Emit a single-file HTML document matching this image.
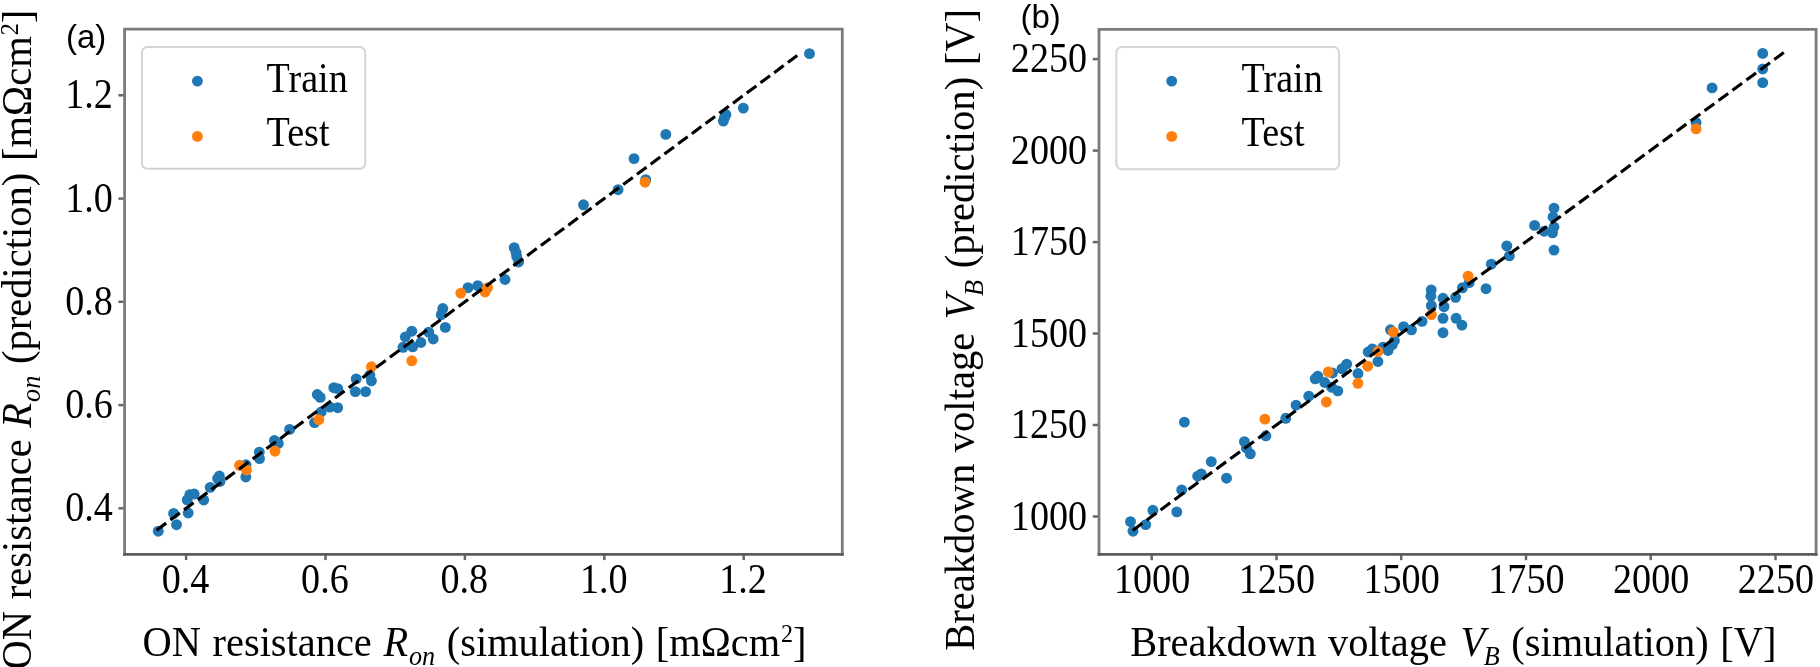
<!DOCTYPE html>
<html lang="en"><head><meta charset="utf-8"><title>Prediction vs simulation</title>
<style>html,body{margin:0;padding:0;background:#fff;}body{width:1820px;height:667px;overflow:hidden;}svg{display:block;filter:blur(0.45px);}text{fill:#000;}</style>
</head><body>
<svg width="1820" height="667" viewBox="0 0 1820 667">
<rect width="1820" height="667" fill="#fff"/>
<g id="panel-a">
<line x1="186.1" y1="554.3" x2="186.1" y2="560.1" stroke="#666" stroke-width="2.5"/><line x1="325.5" y1="554.3" x2="325.5" y2="560.1" stroke="#666" stroke-width="2.5"/><line x1="464.9" y1="554.3" x2="464.9" y2="560.1" stroke="#666" stroke-width="2.5"/><line x1="604.3" y1="554.3" x2="604.3" y2="560.1" stroke="#666" stroke-width="2.5"/><line x1="743.7" y1="554.3" x2="743.7" y2="560.1" stroke="#666" stroke-width="2.5"/><line x1="118.4" y1="508.3" x2="124.6" y2="508.3" stroke="#666" stroke-width="2.5"/><line x1="118.4" y1="405.1" x2="124.6" y2="405.1" stroke="#666" stroke-width="2.5"/><line x1="118.4" y1="301.8" x2="124.6" y2="301.8" stroke="#666" stroke-width="2.5"/><line x1="118.4" y1="198.6" x2="124.6" y2="198.6" stroke="#666" stroke-width="2.5"/><line x1="118.4" y1="95.3" x2="124.6" y2="95.3" stroke="#666" stroke-width="2.5"/><path d="M124.6,555.6999999999999 V29.2 H842.3 V555.6999999999999" fill="none" stroke="#7c7c7c" stroke-width="2.8"/><line x1="123.19999999999999" y1="554.3" x2="843.6999999999999" y2="554.3" stroke="#5c5c5c" stroke-width="2.8"/><text transform="translate(185.50,592.60) scale(0.907,1)" font-family="'Liberation Serif', 'Times New Roman', Times, serif" font-size="42.0" text-anchor="middle" >0.4</text><text transform="translate(324.90,592.60) scale(0.907,1)" font-family="'Liberation Serif', 'Times New Roman', Times, serif" font-size="42.0" text-anchor="middle" >0.6</text><text transform="translate(464.30,592.60) scale(0.907,1)" font-family="'Liberation Serif', 'Times New Roman', Times, serif" font-size="42.0" text-anchor="middle" >0.8</text><text transform="translate(603.70,592.60) scale(0.907,1)" font-family="'Liberation Serif', 'Times New Roman', Times, serif" font-size="42.0" text-anchor="middle" >1.0</text><text transform="translate(743.10,592.60) scale(0.907,1)" font-family="'Liberation Serif', 'Times New Roman', Times, serif" font-size="42.0" text-anchor="middle" >1.2</text><text transform="translate(112.80,521.30) scale(0.907,1)" font-family="'Liberation Serif', 'Times New Roman', Times, serif" font-size="42.0" text-anchor="end" >0.4</text><text transform="translate(112.80,418.05) scale(0.907,1)" font-family="'Liberation Serif', 'Times New Roman', Times, serif" font-size="42.0" text-anchor="end" >0.6</text><text transform="translate(112.80,314.80) scale(0.907,1)" font-family="'Liberation Serif', 'Times New Roman', Times, serif" font-size="42.0" text-anchor="end" >0.8</text><text transform="translate(112.80,211.55) scale(0.907,1)" font-family="'Liberation Serif', 'Times New Roman', Times, serif" font-size="42.0" text-anchor="end" >1.0</text><text transform="translate(112.80,108.30) scale(0.907,1)" font-family="'Liberation Serif', 'Times New Roman', Times, serif" font-size="42.0" text-anchor="end" >1.2</text>
<g fill="#1f77b4"><circle cx="158.3" cy="531.2" r="5.45"/><circle cx="173.6" cy="513.4" r="5.45"/><circle cx="176.5" cy="524.7" r="5.45"/><circle cx="188.2" cy="513.0" r="5.45"/><circle cx="187.2" cy="499.9" r="5.45"/><circle cx="189.8" cy="494.7" r="5.45"/><circle cx="194.2" cy="494.0" r="5.45"/><circle cx="203.7" cy="500.0" r="5.45"/><circle cx="210.2" cy="487.4" r="5.45"/><circle cx="217.6" cy="478.5" r="5.45"/><circle cx="220.0" cy="481.5" r="5.45"/><circle cx="219.4" cy="476.0" r="5.45"/><circle cx="245.8" cy="477.0" r="5.45"/><circle cx="246.0" cy="464.8" r="5.45"/><circle cx="259.3" cy="452.1" r="5.45"/><circle cx="259.5" cy="458.6" r="5.45"/><circle cx="274.4" cy="440.5" r="5.45"/><circle cx="278.3" cy="443.4" r="5.45"/><circle cx="289.6" cy="429.4" r="5.45"/><circle cx="314.6" cy="422.6" r="5.45"/><circle cx="317.3" cy="394.5" r="5.45"/><circle cx="320.2" cy="397.4" r="5.45"/><circle cx="333.8" cy="387.7" r="5.45"/><circle cx="337.7" cy="388.6" r="5.45"/><circle cx="329.9" cy="407.1" r="5.45"/><circle cx="337.7" cy="407.7" r="5.45"/><circle cx="321.2" cy="412.0" r="5.45"/><circle cx="356.2" cy="378.9" r="5.45"/><circle cx="355.3" cy="391.6" r="5.45"/><circle cx="365.6" cy="391.6" r="5.45"/><circle cx="371.4" cy="380.8" r="5.45"/><circle cx="369.9" cy="375.0" r="5.45"/><circle cx="403.0" cy="347.3" r="5.45"/><circle cx="405.3" cy="337.0" r="5.45"/><circle cx="411.8" cy="331.2" r="5.45"/><circle cx="412.7" cy="346.8" r="5.45"/><circle cx="420.9" cy="342.5" r="5.45"/><circle cx="428.7" cy="332.1" r="5.45"/><circle cx="433.2" cy="339.0" r="5.45"/><circle cx="441.3" cy="314.7" r="5.45"/><circle cx="442.8" cy="308.5" r="5.45"/><circle cx="445.3" cy="327.4" r="5.45"/><circle cx="468.0" cy="287.7" r="5.45"/><circle cx="477.7" cy="285.7" r="5.45"/><circle cx="505.0" cy="279.5" r="5.45"/><circle cx="514.2" cy="247.7" r="5.45"/><circle cx="516.1" cy="252.6" r="5.45"/><circle cx="516.7" cy="256.5" r="5.45"/><circle cx="518.6" cy="262.0" r="5.45"/><circle cx="583.5" cy="204.8" r="5.45"/><circle cx="618.1" cy="189.7" r="5.45"/><circle cx="634.0" cy="158.6" r="5.45"/><circle cx="645.7" cy="179.6" r="5.45"/><circle cx="665.8" cy="134.4" r="5.45"/><circle cx="723.3" cy="121.1" r="5.45"/><circle cx="725.9" cy="114.5" r="5.45"/><circle cx="724.5" cy="117.5" r="5.45"/><circle cx="743.3" cy="108.1" r="5.45"/><circle cx="809.5" cy="53.6" r="5.45"/></g>
<g fill="#ff7f0e"><circle cx="239.5" cy="465.3" r="5.45"/><circle cx="246.5" cy="470.0" r="5.45"/><circle cx="275.0" cy="451.2" r="5.45"/><circle cx="318.8" cy="419.7" r="5.45"/><circle cx="371.4" cy="366.8" r="5.45"/><circle cx="411.8" cy="360.8" r="5.45"/><circle cx="460.8" cy="293.1" r="5.45"/><circle cx="485.1" cy="292.0" r="5.45"/><circle cx="487.5" cy="287.7" r="5.45"/><circle cx="645.1" cy="182.2" r="5.45"/></g>
<line x1="156.6" y1="530.2" x2="797.2" y2="55.6" stroke="#000" stroke-width="3.15" stroke-dasharray="11.9 5.18"/>
<rect x="142.0" y="47.0" width="223.2" height="121.8" rx="5.5" ry="5.5" fill="#fff" fill-opacity="0.8" stroke="#d4d4d4" stroke-width="2"/><circle cx="197.4" cy="81.1" r="5.45" fill="#1f77b4"/><circle cx="197.4" cy="136.4" r="5.45" fill="#ff7f0e"/><text transform="translate(266.60,92.00) scale(0.907,1)" font-family="'Liberation Serif', 'Times New Roman', Times, serif" font-size="42.0" text-anchor="start" >Train</text><text transform="translate(266.60,146.30) scale(0.907,1)" font-family="'Liberation Serif', 'Times New Roman', Times, serif" font-size="42.0" text-anchor="start" >Test</text>
<text transform="translate(66.00,48.00) scale(1.0,1)" font-family="'Liberation Sans', Arial, Helvetica, sans-serif" font-size="33" text-anchor="start" >(a)</text>
<text transform="translate(142.6,656.0) scale(0.962,1)" font-family="'Liberation Serif', 'Times New Roman', Times, serif" font-size="42.0" word-spacing="1.6">ON resistance <tspan font-style="italic">R</tspan><tspan font-style="italic" font-size="27.2" dy="9" dx="1">on</tspan><tspan dy="-9"> (simulation) [mΩcm</tspan><tspan font-size="25" dy="-13.6" dx="1">2</tspan><tspan dy="13.6">]</tspan></text>
<text transform="translate(31.4,669.4) rotate(-90) scale(0.9655,1)" font-family="'Liberation Serif', 'Times New Roman', Times, serif" font-size="42.0" word-spacing="1.6">ON resistance <tspan font-style="italic">R</tspan><tspan font-style="italic" font-size="27.2" dy="9" dx="1">on</tspan><tspan dy="-9"> (prediction) [mΩcm</tspan><tspan font-size="25" dy="-13.6" dx="1">2</tspan><tspan dy="13.6">]</tspan></text>
</g>
<g id="panel-b">
<line x1="1151.7" y1="554.4" x2="1151.7" y2="560.2" stroke="#666" stroke-width="2.5"/><line x1="1276.5" y1="554.4" x2="1276.5" y2="560.2" stroke="#666" stroke-width="2.5"/><line x1="1401.2" y1="554.4" x2="1401.2" y2="560.2" stroke="#666" stroke-width="2.5"/><line x1="1526.0" y1="554.4" x2="1526.0" y2="560.2" stroke="#666" stroke-width="2.5"/><line x1="1650.7" y1="554.4" x2="1650.7" y2="560.2" stroke="#666" stroke-width="2.5"/><line x1="1775.5" y1="554.4" x2="1775.5" y2="560.2" stroke="#666" stroke-width="2.5"/><line x1="1092.8" y1="516.5" x2="1099.0" y2="516.5" stroke="#666" stroke-width="2.5"/><line x1="1092.8" y1="425.0" x2="1099.0" y2="425.0" stroke="#666" stroke-width="2.5"/><line x1="1092.8" y1="333.5" x2="1099.0" y2="333.5" stroke="#666" stroke-width="2.5"/><line x1="1092.8" y1="242.1" x2="1099.0" y2="242.1" stroke="#666" stroke-width="2.5"/><line x1="1092.8" y1="150.6" x2="1099.0" y2="150.6" stroke="#666" stroke-width="2.5"/><line x1="1092.8" y1="59.1" x2="1099.0" y2="59.1" stroke="#666" stroke-width="2.5"/><path d="M1099.0,555.8 V29.3 H1816.1 V555.8" fill="none" stroke="#7c7c7c" stroke-width="2.8"/><line x1="1097.6" y1="554.4" x2="1817.5" y2="554.4" stroke="#5c5c5c" stroke-width="2.8"/><text transform="translate(1152.10,592.60) scale(0.907,1)" font-family="'Liberation Serif', 'Times New Roman', Times, serif" font-size="42.0" text-anchor="middle" >1000</text><text transform="translate(1276.86,592.60) scale(0.907,1)" font-family="'Liberation Serif', 'Times New Roman', Times, serif" font-size="42.0" text-anchor="middle" >1250</text><text transform="translate(1401.62,592.60) scale(0.907,1)" font-family="'Liberation Serif', 'Times New Roman', Times, serif" font-size="42.0" text-anchor="middle" >1500</text><text transform="translate(1526.38,592.60) scale(0.907,1)" font-family="'Liberation Serif', 'Times New Roman', Times, serif" font-size="42.0" text-anchor="middle" >1750</text><text transform="translate(1651.14,592.60) scale(0.907,1)" font-family="'Liberation Serif', 'Times New Roman', Times, serif" font-size="42.0" text-anchor="middle" >2000</text><text transform="translate(1775.90,592.60) scale(0.907,1)" font-family="'Liberation Serif', 'Times New Roman', Times, serif" font-size="42.0" text-anchor="middle" >2250</text><text transform="translate(1087.00,529.50) scale(0.907,1)" font-family="'Liberation Serif', 'Times New Roman', Times, serif" font-size="42.0" text-anchor="end" >1000</text><text transform="translate(1087.00,438.02) scale(0.907,1)" font-family="'Liberation Serif', 'Times New Roman', Times, serif" font-size="42.0" text-anchor="end" >1250</text><text transform="translate(1087.00,346.54) scale(0.907,1)" font-family="'Liberation Serif', 'Times New Roman', Times, serif" font-size="42.0" text-anchor="end" >1500</text><text transform="translate(1087.00,255.06) scale(0.907,1)" font-family="'Liberation Serif', 'Times New Roman', Times, serif" font-size="42.0" text-anchor="end" >1750</text><text transform="translate(1087.00,163.58) scale(0.907,1)" font-family="'Liberation Serif', 'Times New Roman', Times, serif" font-size="42.0" text-anchor="end" >2000</text><text transform="translate(1087.00,72.10) scale(0.907,1)" font-family="'Liberation Serif', 'Times New Roman', Times, serif" font-size="42.0" text-anchor="end" >2250</text>
<g fill="#1f77b4"><circle cx="1130.5" cy="521.6" r="5.45"/><circle cx="1133.0" cy="531.2" r="5.45"/><circle cx="1145.7" cy="524.6" r="5.45"/><circle cx="1152.9" cy="510.3" r="5.45"/><circle cx="1176.8" cy="511.9" r="5.45"/><circle cx="1181.7" cy="489.9" r="5.45"/><circle cx="1184.4" cy="422.1" r="5.45"/><circle cx="1197.7" cy="476.2" r="5.45"/><circle cx="1201.2" cy="473.9" r="5.45"/><circle cx="1211.3" cy="461.6" r="5.45"/><circle cx="1226.5" cy="478.2" r="5.45"/><circle cx="1244.4" cy="441.6" r="5.45"/><circle cx="1246.4" cy="448.0" r="5.45"/><circle cx="1250.3" cy="453.8" r="5.45"/><circle cx="1265.9" cy="435.8" r="5.45"/><circle cx="1285.8" cy="418.3" r="5.45"/><circle cx="1296.0" cy="405.1" r="5.45"/><circle cx="1308.8" cy="396.2" r="5.45"/><circle cx="1315.2" cy="378.8" r="5.45"/><circle cx="1317.8" cy="376.2" r="5.45"/><circle cx="1324.7" cy="382.5" r="5.45"/><circle cx="1331.5" cy="387.2" r="5.45"/><circle cx="1337.8" cy="390.9" r="5.45"/><circle cx="1332.5" cy="373.0" r="5.45"/><circle cx="1342.0" cy="368.8" r="5.45"/><circle cx="1346.7" cy="364.1" r="5.45"/><circle cx="1358.0" cy="373.5" r="5.45"/><circle cx="1368.2" cy="352.0" r="5.45"/><circle cx="1372.4" cy="348.9" r="5.45"/><circle cx="1377.9" cy="361.5" r="5.45"/><circle cx="1382.9" cy="347.3" r="5.45"/><circle cx="1388.1" cy="350.5" r="5.45"/><circle cx="1392.3" cy="344.7" r="5.45"/><circle cx="1394.4" cy="340.5" r="5.45"/><circle cx="1390.5" cy="329.8" r="5.45"/><circle cx="1403.6" cy="326.7" r="5.45"/><circle cx="1411.5" cy="329.8" r="5.45"/><circle cx="1422.0" cy="321.4" r="5.45"/><circle cx="1431.2" cy="289.9" r="5.45"/><circle cx="1430.9" cy="296.2" r="5.45"/><circle cx="1431.4" cy="305.7" r="5.45"/><circle cx="1443.0" cy="298.3" r="5.45"/><circle cx="1444.0" cy="306.7" r="5.45"/><circle cx="1443.0" cy="318.3" r="5.45"/><circle cx="1443.0" cy="332.7" r="5.45"/><circle cx="1455.6" cy="297.3" r="5.45"/><circle cx="1456.1" cy="318.3" r="5.45"/><circle cx="1461.9" cy="325.1" r="5.45"/><circle cx="1462.4" cy="287.8" r="5.45"/><circle cx="1469.2" cy="282.6" r="5.45"/><circle cx="1486.0" cy="288.7" r="5.45"/><circle cx="1491.3" cy="264.2" r="5.45"/><circle cx="1506.8" cy="245.9" r="5.45"/><circle cx="1509.4" cy="255.9" r="5.45"/><circle cx="1534.6" cy="225.4" r="5.45"/><circle cx="1544.1" cy="231.2" r="5.45"/><circle cx="1552.5" cy="232.8" r="5.45"/><circle cx="1554.0" cy="227.0" r="5.45"/><circle cx="1553.0" cy="217.0" r="5.45"/><circle cx="1554.0" cy="208.1" r="5.45"/><circle cx="1554.0" cy="250.1" r="5.45"/><circle cx="1696.1" cy="122.5" r="5.45"/><circle cx="1712.1" cy="87.9" r="5.45"/><circle cx="1762.7" cy="53.4" r="5.45"/><circle cx="1762.7" cy="69.0" r="5.45"/><circle cx="1762.7" cy="82.6" r="5.45"/></g>
<g fill="#ff7f0e"><circle cx="1264.9" cy="419.1" r="5.45"/><circle cx="1326.4" cy="402.0" r="5.45"/><circle cx="1328.3" cy="372.0" r="5.45"/><circle cx="1357.9" cy="383.3" r="5.45"/><circle cx="1367.7" cy="366.2" r="5.45"/><circle cx="1377.9" cy="351.5" r="5.45"/><circle cx="1393.3" cy="332.0" r="5.45"/><circle cx="1431.4" cy="314.6" r="5.45"/><circle cx="1468.1" cy="276.2" r="5.45"/><circle cx="1696.1" cy="128.8" r="5.45"/></g>
<line x1="1132.7" y1="530.4" x2="1783.8" y2="52.6" stroke="#000" stroke-width="3.15" stroke-dasharray="12.0 5.3"/>
<rect x="1116.3" y="47.0" width="222.8" height="122.2" rx="5.5" ry="5.5" fill="#fff" fill-opacity="0.8" stroke="#d4d4d4" stroke-width="2"/><circle cx="1171.7" cy="81.1" r="5.45" fill="#1f77b4"/><circle cx="1171.7" cy="136.4" r="5.45" fill="#ff7f0e"/><text transform="translate(1241.60,92.00) scale(0.907,1)" font-family="'Liberation Serif', 'Times New Roman', Times, serif" font-size="42.0" text-anchor="start" >Train</text><text transform="translate(1241.60,146.30) scale(0.907,1)" font-family="'Liberation Serif', 'Times New Roman', Times, serif" font-size="42.0" text-anchor="start" >Test</text>
<text transform="translate(1020.40,28.40) scale(1.0,1)" font-family="'Liberation Sans', Arial, Helvetica, sans-serif" font-size="33" text-anchor="start" >(b)</text>
<text transform="translate(1130.2,655.6) scale(0.962,1)" font-family="'Liberation Serif', 'Times New Roman', Times, serif" font-size="42.0" word-spacing="1.6">Breakdown voltage <tspan font-style="italic" dx="2">V</tspan><tspan font-style="italic" font-size="27.2" dy="9" dx="-1.5">B</tspan><tspan dy="-9"> (simulation) [V]</tspan></text>
<text transform="translate(973.9,650.7) rotate(-90) scale(0.9655,1)" font-family="'Liberation Serif', 'Times New Roman', Times, serif" font-size="42.0" word-spacing="1.6">Breakdown voltage <tspan font-style="italic" dx="2">V</tspan><tspan font-style="italic" font-size="27.2" dy="9" dx="-1.5">B</tspan><tspan dy="-9"> (prediction) [V]</tspan></text>
</g>
</svg></body></html>
